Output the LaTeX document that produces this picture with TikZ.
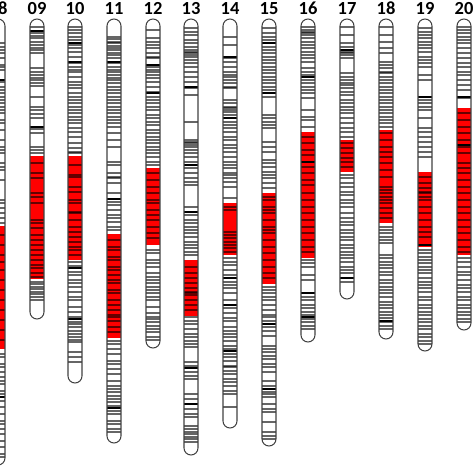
\documentclass[tikz,border=0pt]{standalone}
\usepackage{fontspec}
\setmainfont{Carlito}
\usepackage{tikz}

\tikzset{
  chrom/.style={draw=black!75, line width=0.6pt},
  band/.style={line width=0.6pt, black, opacity=0.6},
  darkband/.style={line width=0.9pt, black},
  qtl/.style={fill=red},
  chromlab/.style={font=\fontsize{10.5}{12}\selectfont\bfseries, inner sep=0pt}
}

\begin{document}
\begin{tikzpicture}[x=0.02cm, y=-0.02cm]
            \useasboundingbox (0,0) rectangle (474,474);
            \clip (0,0) rectangle (474,474);

            % 染色体：中心x/编号/底端/红色区段起止/灰色标记/黑色标记
            \foreach \cx/\lab/\cb/\rt/\rb/\gl/\kl in {
              -2/08/465/226/349/{43,47,50,53,58,65,67,70,82,87,90,93,97,100,103,107,110,113,120,123,130,140,147,150,153,163,167,170,180,200,203,208,213,218,223,235,245,255,262,270,280,290,300,310,320,330,340,354,357,364,367,372,377,381,384,391,394,401,407,414,421,424,429,434,441,447,454,457}/{80,397},
              37/09/319/156/279/{27,33,36,38,42,45,48,50,53,68,72,75,78,80,83,86,97,107,110,114,118,129,133,147,150,153,163,173,178,193,197,203,220,223,228,235,240,245,250,255,260,265,268,273,277,282,284,287,289,292,294,297,300}/{31,127},
              75/10/383/156/260/{27,30,33,37,40,45,48,52,57,63,67,70,72,77,82,85,88,93,97,100,103,107,110,113,117,120,123,128,132,137,143,148,152,153,165,175,177,187,192,200,203,212,213,220,227,232,237,242,247,250,255,262,266,272,275,280,283,287,292,297,300,307,312,317,322,324,327,331,334,337,340,342,352,357,362}/{43,62,268,319},
              114/11/443/234/338/{37,39,42,43,46,48,50,53,55,58,63,67,70,72,75,78,80,83,87,90,93,97,100,103,107,110,113,117,120,123,127,133,140,147,162,165,173,177,178,183,193,202,205,210,215,218,222,227,230,240,247,250,257,260,267,270,275,280,283,290,293,300,305,310,315,317,321,327,332,341,344,349,354,361,364,369,374,381,386,389,392,396,399,402,406,411,414,421,424,429,432}/{62,199,408},
              153/12/348/168/245/{30,38,42,45,48,53,57,58,67,70,72,75,78,82,87,92,97,100,103,107,110,115,118,122,125,130,133,137,140,143,147,150,153,157,162,165,173,180,187,193,200,203,210,215,220,227,233,238,250,253,260,263,267,273,277,280,283,287,290,293,297,300,307,313,317,319,322,326,329,332,337,340}/{65,93},
              191/13/455/260/316/{28,32,35,40,43,47,50,52,53,55,57,60,63,67,72,77,82,88,95,122,140,142,143,145,147,150,153,157,162,168,173,178,182,185,207,215,220,223,227,230,233,237,242,245,248,252,255,267,273,278,283,288,292,293,295,300,305,310,317,321,324,329,334,337,341,344,347,362,366,372,376,379,394,399,409,414,417,426,429,432,434,437,439,442}/{87,165,212,368,404},
              230/14/428/203/255/{37,45,58,62,67,72,75,77,80,83,87,88,100,103,107,108,110,112,115,122,125,128,132,137,140,145,148,152,157,162,165,168,173,175,178,182,187,198,207,210,232,235,238,242,245,248,252,258,262,265,270,275,282,285,288,293,300,308,313,318,321,327,331,334,337,341,346,349,354,357,361,366,367,371,374,379,382,386,391,394,407}/{57,118,278,305,351},
              269/15/446/193/284/{28,33,37,40,47,50,53,57,60,63,67,70,73,77,80,83,87,90,97,115,118,122,125,128,142,147,152,160,163,167,172,175,178,183,188,197,200,207,210,213,220,227,230,233,240,247,253,260,267,273,278,287,290,293,297,300,305,310,315,317,321,327,331,336,346,349,352,356,359,364,367,372,381,386,392,394,397,404,409,412,422,432,436,439}/{43,93,324,389},
              308/16/342/132/258/{27,30,32,33,35,38,42,45,48,52,55,58,62,68,72,75,80,83,87,90,93,98,110,117,120,127,137,143,150,155,167,173,180,185,193,200,207,213,220,227,233,240,247,252,260,263,267,275,280,297,300,305,308,312,315,319,322,326,329}/{77,162,293,317},
              347/17/299/140/172/{27,35,43,47,52,53,55,58,73,77,80,83,85,88,92,95,100,103,107,110,113,118,123,128,132,137,143,148,153,158,162,167,175,178,183,187,192,195,200,203,207,213,218,222,225,230,233,237,240,245,248,252,255,258,262,267,270,273,282}/{50,278},
              386/18/339/130/223/{27,35,42,48,53,62,65,68,72,73,77,80,83,87,90,93,97,100,103,107,110,113,117,120,123,127,133,140,147,152,157,163,170,177,187,190,193,197,200,203,208,213,218,227,230,233,237,240,243,255,258,262,265,268,272,275,280,283,287,290,293,297,302,305,308,312,315,318,322,326,329}/{321},
              425/19/351/172/247/{28,32,35,38,42,45,48,52,57,60,63,67,75,80,100,103,107,110,118,128,132,137,142,147,152,157,177,183,188,192,193,197,200,207,213,220,227,232,237,250,253,257,260,263,267,270,273,278,282,285,288,292,297,300,305,308,312,315,319,322,326,329,334,337,341,344}/{97,245},
              464/20/330/108/255/{27,30,33,37,40,43,48,53,58,63,67,72,75,80,85,90,98,113,120,127,133,140,147,153,163,168,173,180,187,193,200,207,213,220,227,233,240,247,252,258,262,267,272,275,280,285,288,292,297,300,305,308,312,315,319,322}/{97,145}} {
              % 编号
              \node[chromlab] (lab\lab) at (\cx,8.5) {\lab};
              \begin{scope}
                \clip[rounded corners=0.14cm] ({\cx-7},19) rectangle ({\cx+7},\cb);
                % QTL 区段（红色）
                \fill[qtl] ({\cx-7},\rt) rectangle ({\cx+7},\rb);
                % 标记
                \foreach \y in \gl
                  \draw[band] ({\cx-7},\y) -- ({\cx+7},\y);
                \foreach \y in \kl
                  \draw[darkband] ({\cx-7},\y) -- ({\cx+7},\y);
              \end{scope}
              % 轮廓
              \draw[chrom, rounded corners=0.14cm] ({\cx-7},19) rectangle ({\cx+7},\cb);
            }
\end{tikzpicture}
\end{document}
